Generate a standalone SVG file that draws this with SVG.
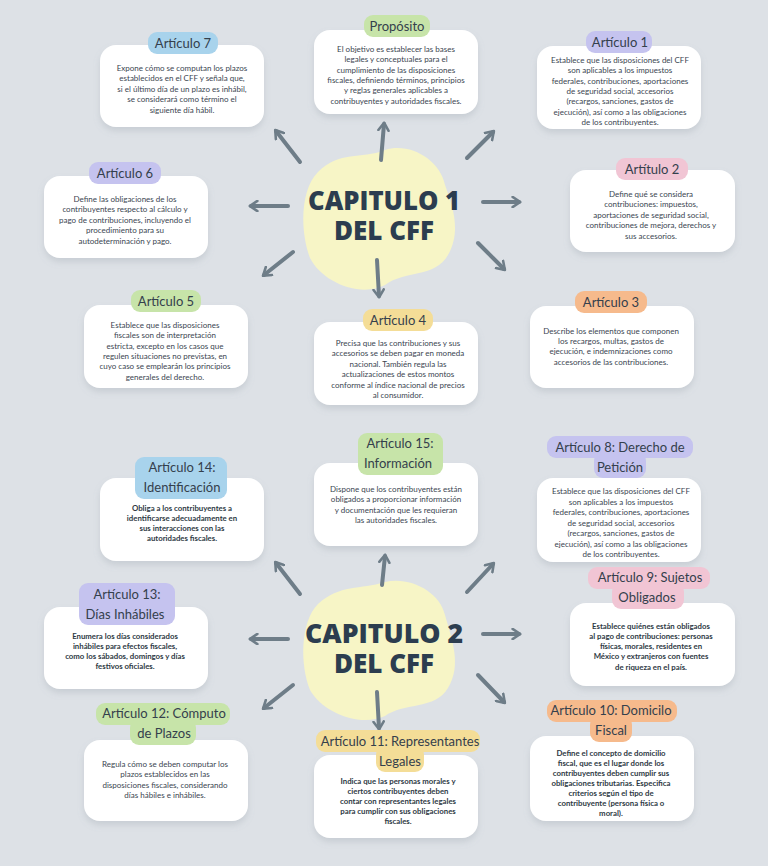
<svg xmlns="http://www.w3.org/2000/svg" width="768" height="866" viewBox="0 0 768 866">
<defs>
<marker id="ah" viewBox="0 0 10 10" refX="6" refY="5" markerWidth="3.2" markerHeight="3.2" orient="auto"><path d="M1,1 L7,5 L1,9" fill="none" stroke="#6e7d88" stroke-width="2" stroke-linecap="round" stroke-linejoin="round"/></marker>
<filter id="sh" x="-10%" y="-10%" width="120%" height="130%"><feDropShadow dx="0" dy="4" stdDeviation="3" flood-color="#8a949e" flood-opacity="0.25"/></filter>
</defs>
<style>
.card{fill:#fff;filter:url(#sh)}
.b{font-family:Lato,"Open Sans",sans-serif;font-size:8px;fill:#3a4550;text-anchor:middle}
.bb{font-family:Lato,"Open Sans",sans-serif;font-size:7.8px;font-weight:bold;fill:#2e3944;text-anchor:middle}
.t{font-family:Lato,"Open Sans",sans-serif;font-size:13px;fill:#34404c;text-anchor:middle}
.h{font-family:"Open Sans",Lato,sans-serif;font-size:26px;font-weight:800;fill:#2c3d4f;text-anchor:middle}
.a{stroke:#6e7d88;stroke-width:4;stroke-linecap:round;fill:none;marker-end:url(#ah)}
.blue{fill:#a8d3ec}.green{fill:#c7e4a9}.lav{fill:#c5c3ef}.pink{fill:#f1c5d4}.yel{fill:#f4dd97}.org{fill:#f6ba8c}
</style>
<rect width="768" height="866" fill="#dde1e6"/>
<g id="center1"><path d="M318,172 C340,150 360,160 385,150 C410,142 440,160 445,185 C452,205 462,230 448,255 C435,278 405,270 385,285 C360,298 322,282 310,258 C300,232 300,190 318,172 Z" fill="#f7f5c6"/>
<text class="h" x="384" y="210" textLength="152" lengthAdjust="spacingAndGlyphs">CAPITULO 1</text><text class="h" x="384" y="240" textLength="100" lengthAdjust="spacingAndGlyphs">DEL CFF</text></g>
<g id="center2"><path d="M318,604 C340,584 360,590 385,582 C410,576 440,592 445,615 C452,640 462,665 448,688 C435,710 405,702 385,716 C360,728 322,712 310,690 C300,665 300,622 318,604 Z" fill="#f7f5c6"/>
<text class="h" x="384" y="643" textLength="158" lengthAdjust="spacingAndGlyphs">CAPITULO 2</text><text class="h" x="384" y="673" textLength="100" lengthAdjust="spacingAndGlyphs">DEL CFF</text></g>
<g id="connectors">
<path class="a" d="M300,162 L276,131"/><path class="a" d="M381,160 L384,124"/><path class="a" d="M467,158 L493,132"/><path class="a" d="M288,206 L251,206"/><path class="a" d="M483,202 L519,202"/><path class="a" d="M293,252 L264,275"/><path class="a" d="M377,260 L379,296"/><path class="a" d="M478,243 L504,269"/>
<path class="a" d="M300,594 L276,563"/><path class="a" d="M382,585 L385,556"/><path class="a" d="M467,592 L493,564"/><path class="a" d="M288,639 L251,639"/><path class="a" d="M483,634 L519,634"/><path class="a" d="M293,685 L264,708"/><path class="a" d="M377,692 L379,728"/><path class="a" d="M478,675 L504,702"/>
</g>
<g id="art7"><rect class="card" x="100" y="45" width="164" height="82" rx="16"/><rect class="blue" x="148" y="32" width="70" height="22" rx="9"/><text class="t" x="183" y="48">Artículo 7</text>
<text class="b" x="182" y="71">Expone cómo se computan los plazos</text><text class="b" x="182" y="81">establecidos en el CFF y señala que,</text><text class="b" x="182" y="92">si el último día de un plazo es inhábil,</text><text class="b" x="182" y="102">se considerará como término el</text><text class="b" x="182" y="113">siguiente día hábil.</text></g>
<g id="proposito"><rect class="card" x="314" y="30" width="164" height="84" rx="16"/><rect class="green" x="364" y="15" width="66" height="22" rx="9"/><text class="t" x="397" y="31">Propósito</text>
<text class="b" x="396" y="52">El objetivo es establecer las bases</text><text class="b" x="396" y="62">legales y conceptuales para el</text><text class="b" x="396" y="73">cumplimiento de las disposiciones</text><text class="b" x="396" y="83">fiscales, definiendo términos, principios</text><text class="b" x="396" y="93">y reglas generales aplicables a</text><text class="b" x="396" y="104">contribuyentes y autoridades fiscales.</text></g>
<g id="art1"><rect class="card" x="537" y="46" width="164" height="83" rx="16"/><rect class="lav" x="586" y="31" width="66" height="22" rx="9"/><text class="t" x="620" y="47">Artículo 1</text>
<text class="b" x="620" y="63">Establece que las disposiciones del CFF</text><text class="b" x="620" y="73">son aplicables a los impuestos</text><text class="b" x="620" y="84">federales, contribuciones, aportaciones</text><text class="b" x="620" y="94">de seguridad social, accesorios</text><text class="b" x="620" y="104">(recargos, sanciones, gastos de</text><text class="b" x="620" y="115">ejecución), así como a las obligaciones</text><text class="b" x="620" y="125">de los contribuyentes.</text></g>
<g id="art6"><rect class="card" x="44" y="176" width="164" height="82" rx="16"/><rect class="lav" x="89" y="162" width="72" height="22" rx="9"/><text class="t" x="125" y="178">Artículo 6</text>
<text class="b" x="125" y="202">Define las obligaciones de los</text><text class="b" x="125" y="212">contribuyentes respecto al cálculo y</text><text class="b" x="125" y="223">pago de contribuciones, incluyendo el</text><text class="b" x="125" y="233">procedimiento para su</text><text class="b" x="125" y="244">autodeterminación y pago.</text></g>
<g id="art2"><rect class="card" x="570" y="170" width="165" height="82" rx="16"/><rect class="pink" x="616" y="158" width="72" height="22" rx="9"/><text class="t" x="652" y="174">Artítulo 2</text>
<text class="b" x="651" y="197">Define qué se considera</text><text class="b" x="651" y="207">contribuciones: impuestos,</text><text class="b" x="651" y="218">aportaciones de seguridad social,</text><text class="b" x="651" y="228">contribuciones de mejora, derechos y</text><text class="b" x="651" y="239">sus accesorios.</text></g>
<g id="art5"><rect class="card" x="84" y="305" width="164" height="83" rx="16"/><rect class="green" x="131" y="290" width="70" height="22" rx="9"/><text class="t" x="166" y="306">Artículo 5</text>
<text class="b" x="165" y="328">Establece que las disposiciones</text><text class="b" x="165" y="338">fiscales son de interpretación</text><text class="b" x="165" y="349">estricta, excepto en los casos que</text><text class="b" x="165" y="359">regulen situaciones no previstas, en</text><text class="b" x="165" y="369">cuyo caso se emplearán los principios</text><text class="b" x="165" y="380">generales del derecho.</text></g>
<g id="art4"><rect class="card" x="314" y="322" width="164" height="83" rx="16"/><rect class="yel" x="363" y="309" width="70" height="22" rx="9"/><text class="t" x="398" y="325">Artículo 4</text>
<text class="b" x="398" y="346">Precisa que las contribuciones y sus</text><text class="b" x="398" y="356">accesorios se deben pagar en moneda</text><text class="b" x="398" y="367">nacional. También regula las</text><text class="b" x="398" y="377">actualizaciones de estos montos</text><text class="b" x="398" y="388">conforme al índice nacional de precios</text><text class="b" x="398" y="398">al consumidor.</text></g>
<g id="art3"><rect class="card" x="530" y="306" width="164" height="82" rx="16"/><rect class="org" x="575" y="291" width="72" height="22" rx="9"/><text class="t" x="611" y="307">Artículo 3</text>
<text class="b" x="611" y="334">Describe los elementos que componen</text><text class="b" x="611" y="344">los recargos, multas, gastos de</text><text class="b" x="611" y="354">ejecución, e indemnizaciones como</text><text class="b" x="611" y="365">accesorios de las contribuciones.</text></g>
<g id="art14"><rect class="card" x="100" y="478" width="164" height="83" rx="16"/><rect class="blue" x="135" y="457" width="92" height="42" rx="9"/><text class="t" x="182" y="472">Artículo 14:</text><text class="t" x="182" y="492">Identificación</text>
<text class="bb" x="182" y="511">Obliga a los contribuyentes a</text><text class="bb" x="182" y="521">identificarse adecuadamente en</text><text class="bb" x="182" y="531">sus interacciones con las</text><text class="bb" x="182" y="541">autoridades fiscales.</text></g>
<g id="art15"><rect class="card" x="314" y="463" width="164" height="83" rx="16"/><rect class="green" x="358" y="433" width="85" height="42" rx="9"/><text class="t" x="400" y="448">Artículo 15:</text><text class="t" x="398" y="468">Información</text>
<text class="b" x="396" y="492">Dispone que los contribuyentes están</text><text class="b" x="396" y="502">obligados a proporcionar información</text><text class="b" x="396" y="513">y documentación que les requieran</text><text class="b" x="396" y="523">las autoridades fiscales.</text></g>
<g id="art8"><rect class="card" x="537" y="478" width="164" height="84" rx="16"/><rect class="lav" x="547" y="436" width="146" height="22" rx="9"/><rect class="lav" x="594" y="452" width="52" height="26" rx="9"/><text class="t" x="620" y="452">Artículo 8: Derecho de</text><text class="t" x="620" y="472">Petición</text>
<text class="b" x="621" y="494">Establece que las disposiciones del CFF</text><text class="b" x="621" y="505">son aplicables a los impuestos</text><text class="b" x="621" y="515">federales, contribuciones, aportaciones</text><text class="b" x="621" y="526">de seguridad social, accesorios</text><text class="b" x="621" y="536">(recargos, sanciones, gastos de</text><text class="b" x="621" y="547">ejecución), así como a las obligaciones</text><text class="b" x="621" y="557">de los contribuyentes.</text></g>
<g id="art13"><rect class="card" x="44" y="607" width="164" height="82" rx="16"/><rect class="lav" x="79" y="583" width="96" height="42" rx="9"/><text class="t" x="127" y="599">Artículo 13:</text><text class="t" x="125" y="619">Días Inhábiles</text>
<text class="bb" x="125" y="639">Enumera los días considerados</text><text class="bb" x="125" y="649">inhábiles para efectos fiscales,</text><text class="bb" x="125" y="659">como los sábados, domingos y días</text><text class="bb" x="125" y="669">festivos oficiales.</text></g>
<g id="art9"><rect class="card" x="570" y="603" width="165" height="83" rx="16"/><rect class="pink" x="588" y="567" width="122" height="22" rx="9"/><rect class="pink" x="612" y="583" width="72" height="26" rx="9"/><text class="t" x="650" y="582">Artículo 9: Sujetos</text><text class="t" x="647" y="602">Obligados</text>
<text class="bb" x="651" y="629">Establece quiénes están obligados</text><text class="bb" x="651" y="639">al pago de contribuciones: personas</text><text class="bb" x="651" y="649">físicas, morales, residentes en</text><text class="bb" x="651" y="659">México y extranjeros con fuentes</text><text class="bb" x="651" y="670">de riqueza en el país.</text></g>
<g id="art12"><rect class="card" x="84" y="740" width="164" height="81" rx="16"/><rect class="green" x="96" y="703" width="134" height="22" rx="9"/><rect class="green" x="130" y="719" width="66" height="26" rx="9"/><text class="t" x="164" y="718">Artículo 12: Cómputo</text><text class="t" x="164" y="738">de Plazos</text>
<text class="b" x="165" y="767">Regula cómo se deben computar los</text><text class="b" x="165" y="777">plazos establecidos en las</text><text class="b" x="165" y="788">disposiciones fiscales, considerando</text><text class="b" x="165" y="798">días hábiles e inhábiles.</text></g>
<g id="art11"><rect class="card" x="314" y="755" width="164" height="83" rx="16"/><rect class="yel" x="316" y="730" width="164" height="22" rx="9"/><rect class="yel" x="376" y="746" width="48" height="26" rx="9"/><text class="t" x="400" y="746">Artículo 11: Representantes</text><text class="t" x="400" y="766">Legales</text>
<text class="bb" x="398" y="784">Indica que las personas morales y</text><text class="bb" x="398" y="794">ciertos contribuyentes deben</text><text class="bb" x="398" y="804">contar con representantes legales</text><text class="bb" x="398" y="814">para cumplir con sus obligaciones</text><text class="bb" x="398" y="824">fiscales.</text></g>
<g id="art10"><rect class="card" x="530" y="736" width="164" height="85" rx="16"/><rect class="org" x="547" y="700" width="130" height="22" rx="9"/><rect class="org" x="590" y="716" width="42" height="26" rx="9"/><text class="t" x="611" y="715">Artículo 10: Domicilo</text><text class="t" x="611" y="735">Fiscal</text>
<text class="bb" x="611" y="756">Define el concepto de domicilio</text><text class="bb" x="611" y="766">fiscal, que es el lugar donde los</text><text class="bb" x="611" y="776">contribuyentes deben cumplir sus</text><text class="bb" x="611" y="786">obligaciones tributarias. Especifica</text><text class="bb" x="611" y="796">criterios según el tipo de</text><text class="bb" x="611" y="806">contribuyente (persona física o</text><text class="bb" x="611" y="816">moral).</text></g>
</svg>
